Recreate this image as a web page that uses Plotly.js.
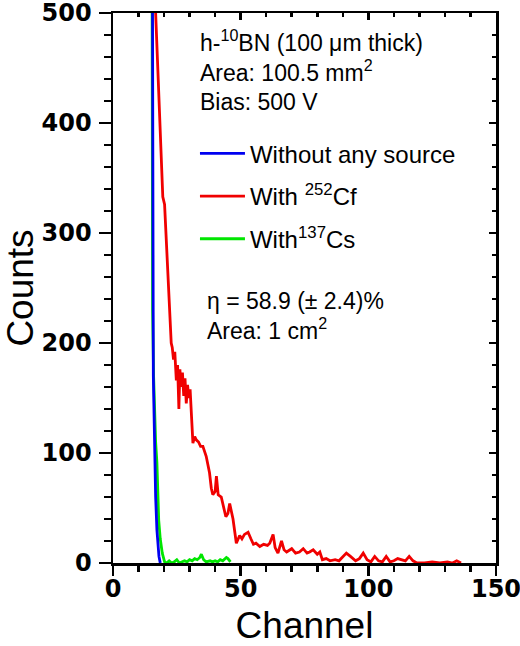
<!DOCTYPE html>
<html>
<head>
<meta charset="utf-8">
<script src="https://cdn.plot.ly/plotly-3.0.1.min.js"></script>
<style>html,body{margin:0;padding:0;background:#fff;}#chart{width:520px;height:646px;}</style>
</head>
<body>
<div id="chart"></div>
<script>
// Series names
const seriesNames = ["Without any source", "With <sup>252</sup>Cf", "With<sup>137</sup>Cs"];

// Without any source (blue)
const blueChannel = [15, 15.5, 15.8, 16, 16.3, 16.7, 17.2, 17.6, 18, 18.5, 19];
const blueCounts  = [1000, 230, 170, 145, 91, 60, 30, 15, 6, 0, 0];

// With 252Cf (red)
const redChannel = [15, 16, 16.7, 17.6, 18.5, 19.5, 20.2, 21.5, 22.2, 22.8, 23.2, 23.7, 24.2, 24.8, 25.3, 25.8, 26.2, 26.7, 27.2, 27.7, 28.2, 28.7, 29.2, 29.7, 30.2,
  30.7, 31.3, 32, 32.6, 33.5, 34.3, 35.2, 36.5, 37.8, 38.5, 39.1, 40, 40.5, 41.2, 42.4, 43.5, 44.2, 45, 45.7, 47, 48.3, 49.6, 50.5, 51.5, 52.9, 54, 55, 56, 57.5,
  59, 60.5, 61.4, 62.7, 63.5, 64.6, 66, 67, 68, 70, 71.5, 73, 74.5, 76, 77, 78.4, 80, 81, 82, 83.5, 85, 87, 88.5, 90, 91.4, 93, 95, 96.5, 98, 99.5,
  101, 102.5, 104, 105.5, 107, 108.5, 110, 111.5, 113, 114.5, 116, 117.5, 119, 122, 125, 128, 131, 133, 134.6, 136.3];
const redCounts = [1500, 560, 500, 451, 391, 333, 326, 269, 239, 200, 196, 185, 192, 166, 180, 140, 176, 160, 173, 152, 168, 145, 162, 150, 158,
  128, 109, 115, 112, 110, 106, 106, 97, 82, 68, 62, 65, 79, 62, 60, 50, 42, 45, 54, 40, 18, 25, 22, 26, 28, 22, 17, 18, 15,
  17, 16, 18, 26, 14, 9, 20, 12, 10, 13, 9, 10, 13, 9, 10, 12, 8, 10, 3, 4, 2, 3, 2, 6, 9, 6, 2, 4, 9, 3,
  1, 6, 2, 1, 6, 1, 2, 4, 3, 2, 6, 2, 0, 0, 1, 0, 1, 0, 2, 0];

// With 137Cs (green)
const greenChannel = [15, 15.5, 15.9, 16.3, 16.7, 17.2, 17.7, 17.9, 18.5, 19.3, 20.2, 21, 22, 23, 24, 25, 26, 27, 28, 29, 30, 31, 32, 33, 34, 34.6, 35.5, 36.5, 38, 39, 40, 41, 42, 43, 44.4, 45, 46];
const greenCounts  = [1000, 230, 170, 130, 110, 91, 60, 39, 22, 9, 1, 0, 2, 0, 1, 3, 0, 1, 2, 1, 3, 2, 4, 3, 5, 8, 3, 1, 2, 1, 2, 1, 3, 2, 5, 4, 1];

// Axis ranges, ticks and titles
const xRange = [0, 150];
const yRange = [0, 500];
const xMajor = 50, xMinor = 10;
const yMajor = 100, yMinor = 20;
const xTitle = "Channel";
const yTitle = "Counts";

const sansFont = "Liberation Sans, Arial, Helvetica, sans-serif";
const tickFontStyle = {family: "DejaVu Sans, sans-serif", size: 24, color: "#000", weight: "bold"};
const titleFont = {family: sansFont, size: 37, color: "#000"};

const traces = [
  {x: greenChannel, y: greenCounts, name: seriesNames[2], type: "scatter", mode: "lines",
   line: {color: "#00e600", width: 2.8}, legendrank: 3, legendgroup: "c", hoverinfo: "skip"},
  {x: redChannel, y: redCounts, name: seriesNames[1], type: "scatter", mode: "lines",
   line: {color: "#f00000", width: 2.8}, legendrank: 2, legendgroup: "b", hoverinfo: "skip"},
  {x: blueChannel, y: blueCounts, name: seriesNames[0], type: "scatter", mode: "lines",
   line: {color: "#0000f0", width: 2.8}, legendrank: 1, legendgroup: "a", hoverinfo: "skip"},
  {x: [], y: [], xaxis: "x2", yaxis: "y2", type: "scatter", mode: "lines", showlegend: false, hoverinfo: "skip"}
];

const lineW = 2.5;
const layout = {
  width: 520, height: 646,
  margin: {l: 113, r: 24, t: 13, b: 83},
  paper_bgcolor: "#fff", plot_bgcolor: "#fff",
  showlegend: true,
  legend: {x: 0.214, y: 0.785, xanchor: "left", yanchor: "top", bgcolor: "rgba(0,0,0,0)",
           font: {family: sansFont, size: 24, color: "#000"}, tracegroupgap: 8.5, traceorder: "grouped", itemwidth: 45},
  xaxis: {range: xRange, tick0: 0, dtick: xMajor, ticks: "outside", ticklen: 10, tickwidth: lineW, tickcolor: "#000",
          showline: true, linewidth: lineW, linecolor: "#000", showgrid: false, zeroline: false,
          minor: {dtick: xMinor, ticks: "outside", ticklen: 6, tickwidth: lineW, tickcolor: "#000", showgrid: false},
          tickfont: tickFontStyle, ticklabelstandoff: -7, ticklabeloverflow: "allow",
          title: {text: xTitle, font: titleFont, standoff: 30}},
  yaxis: {range: yRange, tick0: 0, dtick: yMajor, ticks: "outside", ticklen: 12, tickwidth: lineW, tickcolor: "#000",
          showline: true, linewidth: lineW, linecolor: "#000", showgrid: false, zeroline: false,
          minor: {dtick: yMinor, ticks: "outside", ticklen: 7, tickwidth: lineW, tickcolor: "#000", showgrid: false},
          tickfont: tickFontStyle, ticklabelstandoff: 2, ticklabeloverflow: "allow",
          title: {text: yTitle, font: titleFont, standoff: 30}},
  xaxis2: {overlaying: "x", side: "top", anchor: "y", range: xRange, tick0: 0, dtick: xMajor, ticks: "inside", ticklen: 7,
           tickwidth: lineW, tickcolor: "#000", showline: true, linewidth: lineW, linecolor: "#000",
           showticklabels: false, showgrid: false, zeroline: false,
           minor: {dtick: xMinor, ticks: "inside", ticklen: 4, tickwidth: lineW, tickcolor: "#000", showgrid: false}},
  yaxis2: {overlaying: "y", side: "right", anchor: "x", range: yRange, tick0: 0, dtick: yMajor, ticks: "inside", ticklen: 7,
           tickwidth: lineW, tickcolor: "#000", showline: true, linewidth: lineW, linecolor: "#000",
           showticklabels: false, showgrid: false, zeroline: false,
           minor: {dtick: yMinor, ticks: "inside", ticklen: 4, tickwidth: lineW, tickcolor: "#000", showgrid: false}},
  annotations: [
    {text: "h-<sup>10</sup>BN (100 μm thick)<br>Area: 100.5 mm<sup>2</sup><br>Bias: 500 V", x: 0.221, y: 0.896},
    {text: "η = 58.9 (± 2.4)%<br>Area: 1 cm<sup>2</sup>", x: 0.239, y: 0.449}
  ].map(a => Object.assign({xref: "paper", yref: "paper", xanchor: "left", yanchor: "middle", align: "left", showarrow: false,
                            font: {family: sansFont, size: 23, color: "#000"}}, a))
};

Plotly.newPlot("chart", traces, layout, {staticPlot: true, displayModeBar: false});
</script>
</body>
</html>
